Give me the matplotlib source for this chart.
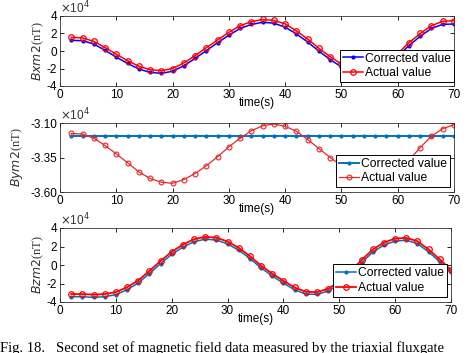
import numpy as np
import matplotlib
matplotlib.use("Agg")
import matplotlib.pyplot as plt

# time axis (s)
t = np.arange(2, 71, 2)

# Bxm2 (x1e4 nT)
bx_act = [1.56, 1.50, 1.10, 0.40, -0.38, -1.10, -1.75, -2.13, -2.25, -2.00,
          -1.37, -0.53, 0.38, 1.26, 2.13, 2.90, 3.35, 3.60, 3.50, 3.10,
          2.30, 1.37, 0.30, -0.65, -1.50, -2.10, -2.30, -2.10, -1.40, -0.30,
          0.95, 2.00, 2.90, 3.40, 3.47]
bx_cor = [1.22, 1.18, 0.80, 0.08, -0.70, -1.42, -2.05, -2.45, -2.55, -2.32,
          -1.68, -0.85, 0.05, 0.95, 1.80, 2.58, 3.03, 3.28, 3.18, 2.72,
          1.95, 1.02, -0.02, -0.98, -1.82, -2.42, -2.62, -2.42, -1.72, -0.62,
          0.62, 1.68, 2.58, 3.05, 3.08]

# Bym2 (x1e4 nT)
by_act = [-3.176, -3.180, -3.210, -3.263, -3.324, -3.388, -3.454, -3.502, -3.529, -3.537,
          -3.510, -3.466, -3.410, -3.344, -3.273, -3.210, -3.156, -3.120, -3.107, -3.124,
          -3.160, -3.220, -3.285, -3.350, -3.410, -3.470, -3.520, -3.540, -3.520, -3.460,
          -3.370, -3.278, -3.195, -3.141, -3.112]
by_cor = [-3.195] * 35

# Bzm2 (x1e4 nT)
bz_act = [-3.14, -3.14, -3.20, -3.14, -2.93, -2.40, -1.68, -0.64, 0.43, 1.43,
          2.21, 2.79, 3.04, 2.96, 2.54, 1.86, 0.96, -0.07, -0.93, -1.71,
          -2.43, -2.89, -2.93, -2.57, -1.80, -0.70, 0.54, 1.68, 2.43, 2.86,
          2.93, 2.57, 1.68, 0.61, -0.54]
bz_cor = [-3.43, -3.43, -3.50, -3.43, -3.20, -2.68, -1.95, -0.92, 0.14, 1.15,
          1.93, 2.52, 2.79, 2.70, 2.28, 1.60, 0.70, -0.32, -1.18, -1.97,
          -2.68, -3.14, -3.18, -2.82, -2.06, -0.98, 0.26, 1.40, 2.16, 2.58,
          2.68, 2.30, 1.42, 0.34, -0.79]

W, H = 474, 353
fig = plt.figure(figsize=(W / 100, H / 100), dpi=100)
plt.rcParams["font.family"] = ["Liberation Sans", "DejaVu Sans"]

mblue = (0.0, 0.447, 0.741)
serif = ["Liberation Serif", "DejaVu Serif"]


def box(left, top, right, bottom):
    return [left / W, 1 - bottom / H, (right - left) / W, (bottom - top) / H]


def style(ax, ylim, yticks, yticklabels, ylab, ylab_x, leg_anchor):
    ax.set_xlim(0, 70)
    ax.set_xticks(range(0, 71, 10))
    ax.set_ylim(*ylim)
    ax.set_yticks(yticks)
    ax.set_yticklabels(yticklabels)
    ax.tick_params(direction="in", top=True, right=True, labelsize=8.5,
                   length=3, width=0.6, pad=2)
    for s in ax.spines.values():
        s.set_linewidth(0.6)
        s.set_color("#333333")
    ax.set_xlabel("time(s)", fontsize=8.5, labelpad=-3)
    # ylabel: italic variable name + units, serif like the paper
    ax.text(ylab_x, 0.5, r"$\it{" + ylab + "}$" + "(nT)", transform=ax.transAxes,
            rotation=90, va="center", ha="center", fontsize=9,
            family=serif, color="#333333")
    ax.text(0.0, 1.0, r"$\times$10$^{4}$", transform=ax.transAxes,
            fontsize=8.5, va="bottom", ha="left", color="#333333")
    leg = ax.legend(loc="lower right", bbox_to_anchor=leg_anchor,
                    borderaxespad=0, fontsize=8.7, handlelength=1.6,
                    handletextpad=0.2, borderpad=0.25, labelspacing=0.2,
                    fancybox=False, framealpha=1)
    leg.get_frame().set_edgecolor("black")
    leg.get_frame().set_linewidth(0.7)


# panel 1
ax1 = fig.add_axes(box(60, 16, 454, 86))
ax1.plot(t, bx_cor, "b.-", lw=1.1, ms=4, label="Corrected value")
ax1.plot(t, bx_act, "ro-", lw=1.1, ms=4, mfc="none", mew=0.9, label="Actual value")
style(ax1, (-4, 4), [-4, -2, 0, 2, 4], ["-4", "-2", "0", "2", "4"],
      "Bxm2", -0.056, (1.0, 0.057))

# panel 2
ax2 = fig.add_axes(box(60, 123, 454, 192))
ax2.plot(t, by_cor, ".-", color=mblue, lw=1.4, ms=4, label="Corrected value")
ax2.plot(t, by_act, "o-", color="#e8282b", lw=0.9, ms=3.5, mfc="none", mew=0.8,
         label="Actual value")
style(ax2, (-3.6, -3.1), [-3.6, -3.35, -3.1], ["-3.60", "-3.35", "-3.10"],
      "Bym2", -0.109, (0.99, 0.07))

# panel 3
ax3 = fig.add_axes(box(60, 228, 451, 302))
ax3.plot(t, bz_cor, ".-", color=mblue, lw=1.1, ms=4, label="Corrected value")
ax3.plot(t, bz_act, "ro-", lw=1.3, ms=4, mfc="none", mew=0.9, label="Actual value")
style(ax3, (-4, 4), [-4, -2, 0, 2, 4], ["-4", "-2", "0", "2", "4"],
      "Bzm2", -0.056, (0.99, 0.07))

# figure caption, clipped by the bottom edge as in the source
fig.text(0.0, 1 - 352 / H, "Fig. 18.   Second set of magnetic field data measured by the triaxial fluxgate",
         fontsize=10.5, family=serif, va="baseline", ha="left")

fig.savefig("out.png", dpi=100)
